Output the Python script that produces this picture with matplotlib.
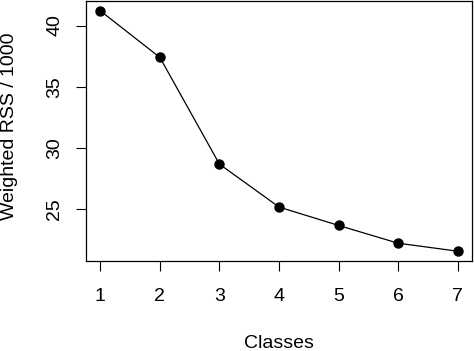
import matplotlib
matplotlib.use("Agg")
import matplotlib.pyplot as plt

classes = [1, 2, 3, 4, 5, 6, 7]
rss = [41.2, 37.4, 28.7, 25.2, 23.7, 22.25, 21.6]
xticks = [1, 2, 3, 4, 5, 6, 7]
yticks = [25, 30, 35, 40]

plt.rcParams['font.family'] = ['Liberation Sans', 'DejaVu Sans']

W, H = 474, 351
fig = plt.figure(figsize=(W / 100, H / 100), dpi=100)
ax = fig.add_axes([86 / W, (H - 261) / H, (472 - 86) / W, 260 / H])

ax.plot(classes, rss, color='black', linewidth=0.9, marker='o',
        markersize=6.5, markerfacecolor='black', markeredgecolor='black')

ax.set_xlim(0.76, 7.24)
ax.set_ylim(20.8, 42.0)
ax.set_xticks(xticks)
ax.set_yticks(yticks)
ax.set_xticklabels([str(v) for v in xticks])
ax.set_yticklabels([str(v) for v in yticks], rotation=90, va='center')

ax.tick_params(axis='x', length=7.2, width=0.8, pad=12, labelsize=14, colors='black')
ax.tick_params(axis='y', length=7.2, width=0.8, pad=9, labelsize=14, colors='black')
for s in ax.spines.values():
    s.set_linewidth(0.9)
    s.set_color('black')

fig.text(279 / W, 1 - 348 / H, 'Classes', ha='center', va='baseline', fontsize=14)
fig.text(10 / W, 1 - 126 / H, 'Weighted RSS / 1000', ha='center', va='center',
         rotation=90, fontsize=14)

fig.savefig('out.png', dpi=100)
